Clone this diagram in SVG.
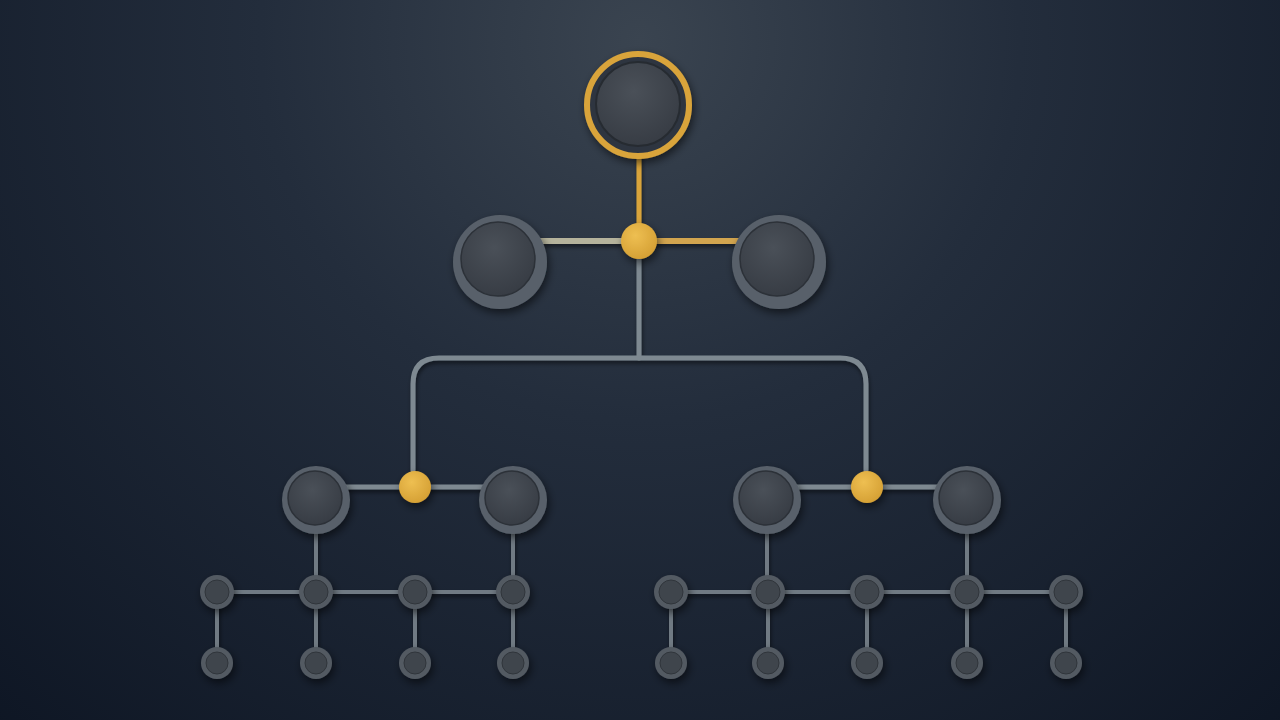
<svg xmlns="http://www.w3.org/2000/svg" width="1280" height="720" viewBox="0 0 1280 720">
<defs>
<radialGradient id="bg" cx="640" cy="40" r="950" gradientUnits="userSpaceOnUse">
<stop offset="0" stop-color="#3a4450"/>
<stop offset="0.4" stop-color="#232d3c"/>
<stop offset="1" stop-color="#0e1624"/>
</radialGradient>
<radialGradient id="face" cx="0.45" cy="0.35" r="0.7">
<stop offset="0" stop-color="#4a5058"/>
<stop offset="1" stop-color="#363b43"/>
</radialGradient>
<radialGradient id="gold" cx="0.4" cy="0.35" r="0.7">
<stop offset="0" stop-color="#eebf52"/>
<stop offset="1" stop-color="#d49f33"/>
</radialGradient>
<filter id="sh" x="-50%" y="-50%" width="200%" height="200%">
<feDropShadow dx="2" dy="4" stdDeviation="4" flood-color="#000" flood-opacity="0.55"/>
</filter>
<filter id="lsh" x="-10%" y="-50%" width="120%" height="200%">
<feDropShadow dx="1" dy="3" stdDeviation="2" flood-color="#000" flood-opacity="0.5"/>
</filter>
</defs>
<style>
.ln{fill:none;stroke:#7e8991;stroke-width:5;stroke-linecap:round}
.ln2{fill:none;stroke:#6f7a83;stroke-width:4}
.gl{fill:none;stroke:#d9a43a;stroke-width:5}
.ring{fill:#59616a;filter:url(#sh)}
.in{fill:url(#face);stroke:#2c3138;stroke-width:1.5}
.jn{fill:url(#gold);filter:url(#sh)}
.sm{fill:#535a62;filter:url(#sh)}
.smi{fill:#3f454c;stroke:#30353b;stroke-width:1}
</style>
<rect width="1280" height="720" fill="url(#bg)"/>
<g id="connectors" filter="url(#lsh)">
<line class="gl" x1="639" y1="150" x2="639" y2="230"/>
<line x1="540" y1="241" x2="630" y2="241" stroke="#b5b39c" stroke-width="6"/>
<line x1="650" y1="241" x2="740" y2="241" stroke="#d2a550" stroke-width="6"/>
<line class="ln" x1="639" y1="255" x2="639" y2="358"/>
<path class="ln" d="M413 470 V384 Q413 358 439 358 H840 Q866 358 866 384 V470"/>
<line class="ln" x1="345" y1="487" x2="485" y2="487"/>
<line class="ln" x1="796" y1="487" x2="940" y2="487"/>
<line class="ln2" x1="316" y1="530" x2="316" y2="580"/>
<line class="ln2" x1="513" y1="530" x2="513" y2="580"/>
<line class="ln2" x1="767" y1="530" x2="767" y2="580"/>
<line class="ln2" x1="967" y1="530" x2="967" y2="580"/>
<line class="ln2" x1="217" y1="592" x2="513" y2="592"/>
<line class="ln2" x1="671" y1="592" x2="1066" y2="592"/>
<line class="ln2" x1="217" y1="592" x2="217" y2="663"/>
<line class="ln2" x1="316" y1="592" x2="316" y2="663"/>
<line class="ln2" x1="415" y1="592" x2="415" y2="663"/>
<line class="ln2" x1="513" y1="592" x2="513" y2="663"/>
<line class="ln2" x1="671" y1="592" x2="671" y2="663"/>
<line class="ln2" x1="768" y1="592" x2="768" y2="663"/>
<line class="ln2" x1="867" y1="592" x2="867" y2="663"/>
<line class="ln2" x1="967" y1="592" x2="967" y2="663"/>
<line class="ln2" x1="1066" y1="592" x2="1066" y2="663"/>
</g>
<g id="root">
<circle cx="638" cy="105" r="51" fill="#2f3641" stroke="#d9a43a" stroke-width="6" filter="url(#sh)"/>
<circle cx="638" cy="104" r="42" fill="url(#face)" stroke="#262b31" stroke-width="2"/>
</g>
<g id="j1"><circle class="jn" cx="639" cy="241" r="18"/></g>
<g id="n2l"><circle class="ring" cx="500" cy="262" r="47"/><circle class="in" cx="498" cy="259" r="37"/></g>
<g id="n2r"><circle class="ring" cx="779" cy="262" r="47"/><circle class="in" cx="777" cy="259" r="37"/></g>
<g id="j2l"><circle class="jn" cx="415" cy="487" r="16"/></g>
<g id="j2r"><circle class="jn" cx="867" cy="487" r="16"/></g>
<g id="n3a"><circle class="ring" cx="316" cy="500" r="34"/><circle class="in" cx="315" cy="498" r="27"/></g>
<g id="n3b"><circle class="ring" cx="513" cy="500" r="34"/><circle class="in" cx="512" cy="498" r="27"/></g>
<g id="n3c"><circle class="ring" cx="767" cy="500" r="34"/><circle class="in" cx="766" cy="498" r="27"/></g>
<g id="n3d"><circle class="ring" cx="967" cy="500" r="34"/><circle class="in" cx="966" cy="498" r="27"/></g>
<g id="r4a"><circle class="sm" cx="217" cy="592" r="17"/><circle class="smi" cx="217" cy="592" r="12"/></g>
<g id="r4b"><circle class="sm" cx="316" cy="592" r="17"/><circle class="smi" cx="316" cy="592" r="12"/></g>
<g id="r4c"><circle class="sm" cx="415" cy="592" r="17"/><circle class="smi" cx="415" cy="592" r="12"/></g>
<g id="r4d"><circle class="sm" cx="513" cy="592" r="17"/><circle class="smi" cx="513" cy="592" r="12"/></g>
<g id="r4e"><circle class="sm" cx="671" cy="592" r="17"/><circle class="smi" cx="671" cy="592" r="12"/></g>
<g id="r4f"><circle class="sm" cx="768" cy="592" r="17"/><circle class="smi" cx="768" cy="592" r="12"/></g>
<g id="r4g"><circle class="sm" cx="867" cy="592" r="17"/><circle class="smi" cx="867" cy="592" r="12"/></g>
<g id="r4h"><circle class="sm" cx="967" cy="592" r="17"/><circle class="smi" cx="967" cy="592" r="12"/></g>
<g id="r4i"><circle class="sm" cx="1066" cy="592" r="17"/><circle class="smi" cx="1066" cy="592" r="12"/></g>
<g id="r5a"><circle class="sm" cx="217" cy="663" r="16"/><circle class="smi" cx="217" cy="663" r="11"/></g>
<g id="r5b"><circle class="sm" cx="316" cy="663" r="16"/><circle class="smi" cx="316" cy="663" r="11"/></g>
<g id="r5c"><circle class="sm" cx="415" cy="663" r="16"/><circle class="smi" cx="415" cy="663" r="11"/></g>
<g id="r5d"><circle class="sm" cx="513" cy="663" r="16"/><circle class="smi" cx="513" cy="663" r="11"/></g>
<g id="r5e"><circle class="sm" cx="671" cy="663" r="16"/><circle class="smi" cx="671" cy="663" r="11"/></g>
<g id="r5f"><circle class="sm" cx="768" cy="663" r="16"/><circle class="smi" cx="768" cy="663" r="11"/></g>
<g id="r5g"><circle class="sm" cx="867" cy="663" r="16"/><circle class="smi" cx="867" cy="663" r="11"/></g>
<g id="r5h"><circle class="sm" cx="967" cy="663" r="16"/><circle class="smi" cx="967" cy="663" r="11"/></g>
<g id="r5i"><circle class="sm" cx="1066" cy="663" r="16"/><circle class="smi" cx="1066" cy="663" r="11"/></g>
</svg>
